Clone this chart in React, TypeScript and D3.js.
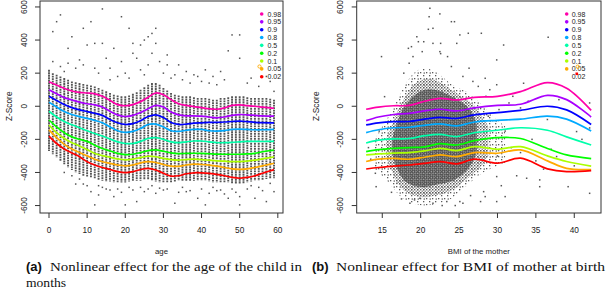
import React from "react";
import * as d3 from "d3";

// ---------- shared ----------
const quantiles = ["0.98", "0.95", "0.9", "0.8", "0.5", "0.2", "0.1", "0.05", "0.02"];
const colors = ["#FF00AA", "#AA00FF", "#0000FF", "#00AAFF", "#00FFAA", "#00FF00", "#AAFF00", "#FFAA00", "#FF0000"];
const yTicks = [-600, -400, -200, 0, 200, 400, 600];
const ageTicks = [0, 10, 20, 30, 40, 50, 60];
const bmiTicks = [15, 20, 25, 30, 35, 40];

// ---------- panel (a): age ----------
const ageGrid = [0, 2, 4, 6, 8, 10, 12, 14, 16, 18, 20, 22, 24, 26, 28, 30, 32, 34, 36, 38, 40, 42, 44, 46, 48, 50, 52, 54, 56, 58, 59];
const ageQ98 = [148, 128, 108, 92, 84, 80, 75, 60, 35, 10, 3, 10, 28, 55, 80, 70, 40, 15, 5, -2, -8, -15, -18, -10, 5, 8, 4, 0, -5, -10, -12];
const ageQ95 = [100, 75, 52, 38, 25, 15, 8, -5, -30, -52, -62, -55, -38, -15, 5, -5, -35, -52, -58, -58, -60, -65, -70, -65, -55, -50, -52, -55, -58, -60, -60];
const ageQ90 = [60, 35, 10, -8, -22, -32, -42, -55, -80, -100, -110, -105, -88, -62, -52, -68, -98, -110, -108, -102, -100, -98, -97, -95, -92, -90, -93, -97, -99, -100, -100];
const ageQ80 = [25, -5, -32, -50, -63, -73, -85, -100, -125, -148, -158, -152, -135, -110, -108, -125, -148, -152, -145, -140, -140, -148, -150, -147, -140, -138, -140, -142, -142, -141, -140];
const ageQ50 = [-30, -65, -92, -112, -130, -148, -165, -180, -198, -215, -225, -225, -212, -195, -190, -200, -215, -220, -215, -210, -210, -215, -220, -220, -218, -215, -212, -212, -213, -212, -212];
const ageQ20 = [-83, -125, -160, -185, -200, -212, -235, -255, -270, -285, -292, -290, -280, -268, -264, -272, -282, -286, -285, -284, -285, -287, -289, -290, -290, -290, -288, -285, -275, -268, -265];
const ageQ10 = [-113, -160, -195, -220, -240, -262, -285, -298, -308, -318, -324, -320, -310, -302, -305, -315, -322, -325, -322, -320, -322, -326, -330, -332, -334, -335, -332, -326, -318, -310, -305];
const ageQ05 = [-143, -190, -230, -258, -280, -300, -320, -335, -345, -355, -360, -355, -342, -335, -340, -352, -362, -363, -355, -350, -352, -356, -362, -370, -378, -381, -378, -370, -360, -350, -346];
const ageQ02 = [-180, -225, -258, -282, -305, -335, -355, -370, -382, -395, -401, -395, -382, -375, -385, -405, -422, -420, -408, -402, -402, -405, -412, -420, -430, -435, -430, -420, -405, -390, -383];
const ageCurves = [ageQ98, ageQ95, ageQ90, ageQ80, ageQ50, ageQ20, ageQ10, ageQ05, ageQ02];

// observed columns (dense range of Z-scores per month of age)
const colAges = [0, 1, 2, 3, 4, 5, 6, 7, 8, 9, 10, 11, 12, 13, 14, 15, 16, 17, 18, 19, 20, 21, 22, 23, 24, 25, 26, 27, 28, 29, 30, 31, 32, 33, 34, 35, 36, 37, 38, 39, 40, 41, 42, 43, 44, 45, 46, 47, 48, 49, 50, 51, 52, 53, 54, 55, 56, 57, 58, 59];
const colHi = [220, 200, 190, 180, 170, 160, 150, 145, 140, 135, 130, 125, 120, 110, 100, 90, 80, 70, 65, 60, 60, 65, 75, 85, 100, 115, 130, 140, 140, 130, 110, 95, 80, 70, 65, 60, 60, 60, 55, 50, 50, 50, 45, 40, 40, 50, 50, 55, 60, 60, 60, 60, 55, 50, 50, 50, 50, 50, 45, 40];
const colLo = [-270, -290, -310, -330, -350, -370, -385, -400, -410, -420, -425, -430, -440, -445, -450, -455, -455, -460, -460, -460, -460, -455, -450, -450, -450, -445, -445, -450, -455, -460, -460, -460, -460, -455, -450, -450, -450, -450, -450, -450, -450, -450, -455, -460, -460, -460, -460, -460, -465, -470, -470, -465, -460, -455, -450, -450, -445, -440, -440, -435];
const outA: [number, number][] = [
  [1, 451], [2, 511], [3, 552], [1, 270], [5, 350], [6, 420], [9, 471], [11, 511], [10, 370], [12, 380], [14, 588], [14, 380],
  [15, 290], [17, 350], [16, 230], [19, 541], [19, 270], [21, 471], [22, 380], [22, 320], [23, 290], [24, 370], [25, 400], [26, 420],
  [27, 440], [27, 320], [28, 471], [28, 380], [31, 310], [31, 250], [34, 250], [36, 210], [38, 190], [41, 220], [43, 180], [45, 210],
  [47, 335], [48, 431], [50, 431], [50, 290], [53, 170], [57, 180], [59, 90], [3, 240], [4, 210], [7, 230], [8, 280], [13, 200],
  [18, 180], [20, 200], [24, 220], [26, 250], [29, 270], [30, 200], [33, 190], [35, 160], [40, 150], [44, 130], [46, 160], [52, 140],
  [55, 120], [58, 150], [39, 180], [42, 140], [5, 260], [9, 250], [12, 230], [16, 160], [21, 170], [25, 190], [32, 170], [37, 140],
  [11, -516], [12, -596], [13, -536], [16, -506], [17, -546], [20, -596], [22, -506], [23, -576], [25, -516], [28, -526], [30, -506],
  [33, -586], [36, -516], [39, -556], [41, -596], [42, -526], [45, -506], [47, -556], [50, -596], [50, -546], [54, -556], [57, -576],
  [59, -516], [58, -466], [6, -420], [8, -440], [9, -470], [14, -490], [18, -500], [19, -520], [21, -490], [26, -500], [27, -480],
  [31, -500], [35, -490], [37, -510], [40, -500], [44, -510], [48, -500], [52, -500], [55, -490], [56, -510], [10, -480], [15, -500],
  [24, -490], [29, -495], [34, -520], [43, -490], [46, -530], [49, -520], [53, -480], [4, -400], [7, -470], [13, -480],
];

// ---------- panel (b): BMI ----------
const bmiGrid = [12.9, 14.5, 16.5, 18.5, 20.5, 22.5, 24.7, 27, 30, 33, 36.5, 39, 42.2];
const bmiQ98 = [-18, -5, 3, 5, 30, 48, 38, 54, 60, 88, 143, 109, -25];
const bmiQ95 = [-87, -65, -50, -43, -28, -18, -28, -10, 5, 12, 66, 40, -65];
const bmiQ90 = [-113, -100, -93, -92, -78, -67, -73, -52, -38, -25, 0, -22, -110];
const bmiQ80 = [-159, -142, -130, -127, -115, -107, -119, -95, -85, -78, -60, -78, -150];
const bmiQ50 = [-222, -205, -197, -195, -178, -170, -183, -160, -145, -130, -145, -185, -234];
const bmiQ20 = [-274, -262, -254, -250, -245, -226, -234, -208, -190, -195, -255, -294, -316];
const bmiQ10 = [-294, -288, -283, -280, -270, -254, -268, -244, -260, -244, -300, -334, -362];
const bmiQ05 = [-334, -320, -315, -320, -308, -294, -304, -280, -284, -264, -330, -375, -382];
const bmiQ02 = [-379, -370, -362, -355, -345, -334, -348, -320, -344, -314, -378, -395, -389];
const bmiCurves = [bmiQ98, bmiQ95, bmiQ90, bmiQ80, bmiQ50, bmiQ20, bmiQ10, bmiQ05, bmiQ02];

// observed cloud: sparse outer envelope, medium band and dense core
const ringBmi = [14, 15, 16, 17, 18, 19, 20, 21, 22, 23, 24, 25, 26, 27, 28, 29, 30, 31];
const ringHi = [-200, -120, -50, 40, 140, 200, 230, 230, 210, 170, 130, 110, 90, 50, 10, -40, -90, -120];
const ringLo = [-380, -420, -470, -530, -570, -590, -600, -600, -590, -580, -560, -520, -480, -440, -400, -380, -360, -340];
const midBmi = [15.5, 16.3, 17, 18, 19, 20, 21, 22, 23, 24, 25, 26, 27, 28, 28.8];
const midHi = [-200, -110, -20, 60, 130, 160, 170, 160, 130, 100, 70, 40, 10, -60, -120];
const midLo = [-300, -400, -470, -520, -540, -550, -550, -540, -530, -510, -480, -440, -400, -360, -300];
const coreBmi = [16.3, 16.8, 17.5, 18, 19, 20, 21, 22, 23, 24, 25, 26, 26.8, 27.3];
const coreHi = [-200, -110, -30, 10, 60, 95, 105, 100, 85, 60, 35, 5, -40, -110];
const coreLo = [-290, -370, -430, -460, -480, -490, -485, -475, -465, -455, -430, -390, -340, -280];
const outB: [number, number][] = [
  [14.9, 300], [15.3, 58], [21.2, 592], [21.1, 541], [22.5, 558], [21.6, 471], [21.0, 465], [24.0, 511], [24.4, 511], [25.1, 431],
  [26.2, 441], [27.9, 441], [19.5, 420], [19.7, 390], [20.4, 390], [21.6, 380], [22.6, 380], [24.7, 380], [18.4, 350], [18.8, 360],
  [22.5, 330], [22.6, 318], [24.0, 240], [26.3, 230], [28.4, 169], [29.9, 280], [30.8, 370], [33.4, 139], [36.6, 417], [29.9, 130],
  [42.0, 20], [42.0, -131], [40.3, -153], [36.5, -80], [33, -10], [38, 40], [31, -150], [34.5, -200], [37, -260], [30, -300],
  [41, -200], [29, 100], [32, 60], [35, -330], [40, -360], [31.5, 20], [28.5, 60], [34, 30], [13.2, -250], [13.5, -320],
  [14.2, -486], [14.1, -405], [16.9, -466], [18.6, -586], [19.2, -566], [19.9, -556], [21.6, -586], [23.4, -576], [25.1, -576],
  [25.5, -586], [28.2, -516], [28.4, -546], [27.8, -576], [29.9, -576], [29.9, -425], [31.0, -546], [33.8, -435], [35.5, -445],
  [35.5, -486], [39.2, -486], [42.0, -526], [37.7, -304], [32.5, -420], [30.5, -480], [26.5, -540], [24.5, -600], [22.8, -600],
  [17.5, -560], [16.2, -520], [15.2, -260], [14.6, -150], [17.8, 200], [18.5, 260], [19.0, 300], [20.2, 330], [23.5, 300], [25.5, 180],
  [26.8, 150], [27.5, 120], [28.8, -60], [30.2, -20], [31.8, -250], [33, -280], [36, -380],
];

// ---------- geometry ----------
const W = 607, H = 292;
const TOP = 1, BOTTOM = 213;
const yScale = d3.scaleLinear().domain([-645, 636]).range([BOTTOM, TOP]);
const xA = d3.scaleLinear().domain([-2.36, 61.36]).range([40, 283]);
const xB = d3.scaleLinear().domain([11.67, 43.48]).range([356.7, 601]);
const AXIS_FONT = "'Liberation Sans', Arial, Helvetica, sans-serif";
const SERIF = "'Liberation Serif', 'DejaVu Serif', serif";

function Axes({ x, xTicks, xTitle, ylabX, ylabTitleX }: any) {
  const [x0, x1] = x.range();
  return (
    <g fontFamily={AXIS_FONT} fill="#222">
      <rect x={x0} y={TOP} width={x1 - x0} height={BOTTOM - TOP} fill="none" stroke="#333" strokeWidth={1} />
      {yTicks.map((t) => (
        <g key={"y" + t}>
          <line x1={x0 - 5} x2={x0} y1={yScale(t)} y2={yScale(t)} stroke="#333" />
          <text
            transform={`translate(${ylabX},${yScale(t)}) rotate(-90)`}
            textAnchor="middle"
            dominantBaseline="central"
            fontSize={8.3}
          >
            {t}
          </text>
        </g>
      ))}
      {xTicks.map((t: number) => (
        <g key={"x" + t}>
          <line x1={x(t)} x2={x(t)} y1={BOTTOM} y2={BOTTOM + 5} stroke="#333" />
          <text x={x(t)} y={230} textAnchor="middle" dominantBaseline="central" fontSize={8.3}>
            {t}
          </text>
        </g>
      ))}
      <text x={(x0 + x1) / 2} y={251} textAnchor="middle" dominantBaseline="central" fontSize={7.8}>
        {xTitle}
      </text>
      <text
        transform={`translate(${ylabTitleX},${yScale(0)}) rotate(-90)`}
        textAnchor="middle"
        dominantBaseline="central"
        fontSize={8.3}
      >
        Z-Score
      </text>
    </g>
  );
}

function Legend({ mx, tx, skipLast }: any) {
  return (
    <g fontFamily={AXIS_FONT} fontSize={7} fill="#222">
      {quantiles.map((q, i) => {
        const yy = 14 + i * 7.84;
        return (
          <g key={q}>
            {!(skipLast && i === quantiles.length - 1) && <circle cx={mx} cy={yy} r={1.8} fill={colors[i]} />}
            <text x={tx} y={yy} dominantBaseline="central">
              {q}
            </text>
          </g>
        );
      })}
    </g>
  );
}

export default function App() {
  const lineA = d3
    .line<number>()
    .x((_, i) => xA(ageGrid[i]))
    .y((d) => yScale(d))
    .curve(d3.curveCatmullRom.alpha(0.5));
  const lineB = d3
    .line<number>()
    .x((_, i) => xB(bmiGrid[i]))
    .y((d) => yScale(d))
    .curve(d3.curveCatmullRom.alpha(0.5));
  const band = (xs: number[], lo: number[], hi: number[]) =>
    d3
      .area<number>()
      .x((d) => xB(d))
      .y0((_, i) => yScale(lo[i]))
      .y1((_, i) => yScale(hi[i]))
      .curve(d3.curveBasis)(xs) || "";
  const [a0, a1] = xA.range();
  const [b0, b1] = xB.range();

  return (
    <svg
      width={W}
      height={H}
      viewBox={`0 0 ${W} ${H}`}
      style={{ position: "absolute", left: 0, top: 0, background: "#fff" }}
    >
      <defs>
        <clipPath id="clipA">
          <rect x={a0} y={TOP} width={a1 - a0} height={BOTTOM - TOP} />
        </clipPath>
        <clipPath id="clipB">
          <rect x={b0} y={TOP} width={b1 - b0} height={BOTTOM - TOP} />
        </clipPath>
        <pattern id="pDense" width="2" height="2" patternUnits="userSpaceOnUse">
          <rect width="1.75" height="1.75" fill="#555" />
        </pattern>
        <pattern id="pMid" width="3" height="3" patternUnits="userSpaceOnUse">
          <rect x="0" y="0" width="1.4" height="1.4" fill="#5a5a5a" />
          <rect x="1.6" y="1.6" width="1.2" height="1.2" fill="#5a5a5a" />
        </pattern>
        <pattern id="pSparse" width="6" height="6" patternUnits="userSpaceOnUse">
          <rect x="0" y="0" width="1.3" height="1.3" fill="#5a5a5a" />
          <rect x="3" y="3" width="1.3" height="1.3" fill="#5a5a5a" />
          <rect x="3.6" y="0.4" width="1.3" height="1.3" fill="#5a5a5a" />
        </pattern>
      </defs>
      <rect width={W} height={H} fill="#fff" />

      {/* ---------- panel (a) ---------- */}
      <g clipPath="url(#clipA)">
        {colAges.map((a, i) => (
          <line
            key={a}
            x1={xA(a)}
            x2={xA(a)}
            y1={yScale(colHi[i])}
            y2={yScale(colLo[i])}
            stroke="#555"
            strokeWidth={1.9}
            strokeDasharray="1.8 0.7"
          />
        ))}
        {outA.map(([a, v], i) => (
          <rect key={i} x={xA(a) - 0.75} y={yScale(v) - 0.75} width={1.5} height={1.5} fill="#555" />
        ))}
        {ageCurves.map((c, i) => (
          <path key={i} d={lineA(c) || ""} fill="none" stroke={colors[i]} strokeWidth={1.7} />
        ))}
      </g>
      <Axes x={xA} xTicks={ageTicks} xTitle="age" ylabX={24} ylabTitleX={8.5} />
      <Legend mx={261.7} tx={267.5} />
      <circle cx={259.5} cy={66.5} r={1.6} fill="none" stroke="#FFAA00" strokeWidth={0.9} />

      {/* ---------- panel (b) ---------- */}
      <g clipPath="url(#clipB)">
        <path d={band(ringBmi, ringLo, ringHi)} fill="url(#pSparse)" />
        <path d={band(midBmi, midLo, midHi)} fill="url(#pMid)" />
        <path d={band(coreBmi, coreLo, coreHi)} fill="url(#pDense)" />
        {outB.map(([b, v], i) => (
          <rect key={i} x={xB(b) - 0.75} y={yScale(v) - 0.75} width={1.5} height={1.5} fill="#555" />
        ))}
        {bmiCurves.map((c, i) => (
          <path key={i} d={lineB(c) || ""} fill="none" stroke={colors[i]} strokeWidth={1.7} />
        ))}
      </g>
      <Axes x={xB} xTicks={bmiTicks} xTitle="BMI of the mother" ylabX={339.5} ylabTitleX={316} />
      <Legend mx={566.7} tx={571.7} skipLast />
      <circle cx={577.7} cy={66.7} r={1.7} fill="none" stroke="#FFAA00" strokeWidth={0.9} />
      <rect x={575.5} y={72.5} width={2.6} height={2.6} fill="#FF0000" />

      {/* ---------- captions ---------- */}
      <g fill="#111">
        <text x={26} y={271} fontFamily={AXIS_FONT} fontWeight="bold" fontSize={13}>
          (a)
        </text>
        <text x={50} y={271} fontFamily={SERIF} fontSize={13} textLength={252} lengthAdjust="spacingAndGlyphs">
          Nonlinear effect for the age of the child in
        </text>
        <text x={26} y={287} fontFamily={SERIF} fontSize={13} textLength={40} lengthAdjust="spacingAndGlyphs">
          months
        </text>
        <text x={312} y={271} fontFamily={AXIS_FONT} fontWeight="bold" fontSize={13}>
          (b)
        </text>
        <text x={336} y={271} fontFamily={SERIF} fontSize={13} textLength={269} lengthAdjust="spacingAndGlyphs">
          Nonlinear effect for BMI of mother at birth
        </text>
      </g>
    </svg>
  );
}
